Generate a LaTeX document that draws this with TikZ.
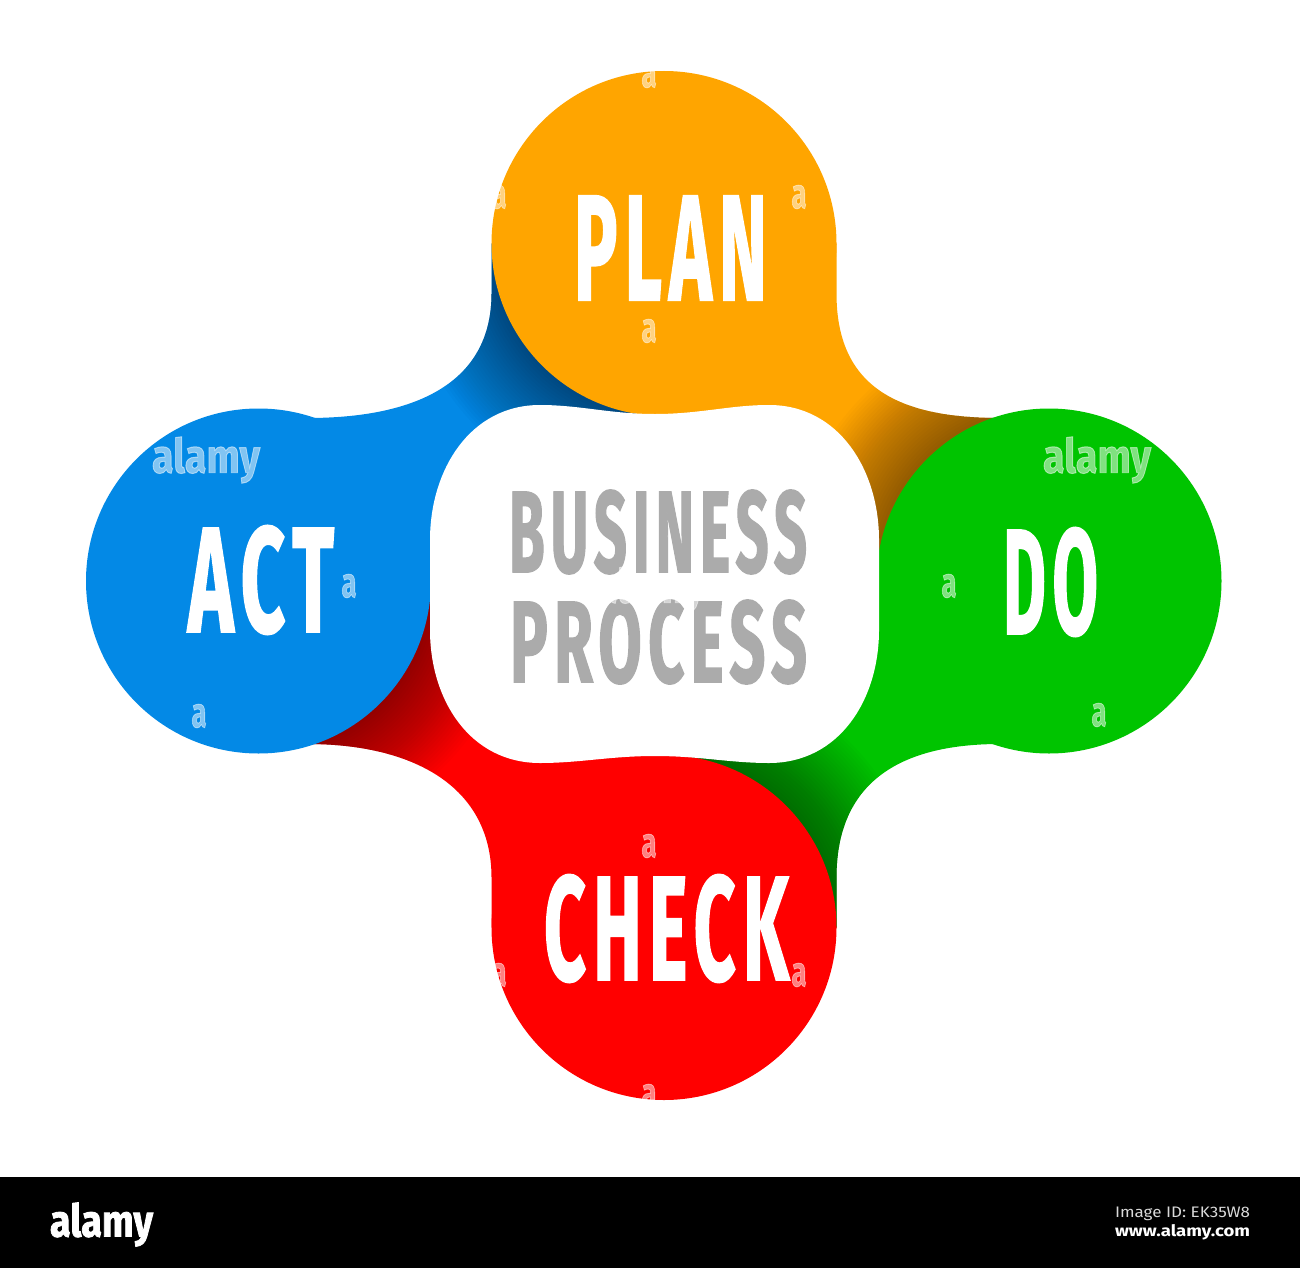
\documentclass[tikz,border=0pt]{standalone}
\usepackage{fontspec}
\usepackage{graphicx}
\newfontfamily\labelfont{Fira Sans}[FakeBold=1.6,LetterSpace=10]
\newfontfamily\wmfont{Fira Sans}[FakeBold=2]
\newfontfamily\plainfont{Fira Sans}
\definecolor{planc}{RGB}{255,165,0}
\definecolor{doc}{RGB}{0,196,0}
\definecolor{checkc}{RGB}{255,0,0}
\definecolor{actc}{RGB}{3,137,230}
\definecolor{graytxt}{RGB}{171,171,171}
\tikzset{
  bigword/.style={inner sep=0pt, text=white, font=\labelfont\bfseries},
  grayword/.style={inner sep=0pt, text=graytxt, font=\labelfont\bfseries},
  wmark/.style={inner sep=0pt, text=white, text opacity=0.5, font=\wmfont\bfseries},
  shadowring/.style={black, opacity=0.014}
}
\begin{document}
\begin{tikzpicture}[x=1pt,y=-1pt]
\useasboundingbox (0,0) rectangle (1300,1268);
\fill[white] (0,0) rectangle (1300,1268);
\coordinate (P) at (664,243.5);
\coordinate (D) at (1049,581);
\coordinate (K) at (664,927.5);
\coordinate (A) at (258.5,581);
\coordinate (C) at (654.5,585);
% orange band (PLAN -> DO), shadowed by DO
\begin{scope}
  \clip (P) -- (836.5,243.5) -- (836.5,293.5) .. controls (836.5,385) and (895,418) .. (1000,418) -- (D) -- (C) -- cycle;
  \fill[planc] (550,150) rectangle (1150,700);
  \foreach \i in {1,...,30} \fill[shadowring] (D) circle[radius={172.5pt+3pt*\i}];
\end{scope}
% blue band (ACT -> PLAN), shadowed by PLAN
\begin{scope}
  \clip (A) -- (307.5,418) .. controls (412.5,418) and (491.5,385) .. (491.5,293.5) -- (491.5,243.5) -- (P) -- (C) -- cycle;
  \fill[actc] (150,150) rectangle (750,700);
  \foreach \i in {1,...,30} \fill[shadowring] (P) circle[radius={172.5pt+3pt*\i}];
\end{scope}
% green band (DO -> CHECK), shadowed by CHECK
\begin{scope}
  \clip (D) -- (1000,744) .. controls (895,744) and (836.5,786) .. (836.5,877.5) -- (836.5,927.5) -- (K) -- (C) -- cycle;
  \fill[doc] (550,450) rectangle (1150,1000);
  \foreach \i in {1,...,30} \fill[shadowring] (K) circle[radius={172.5pt+3pt*\i}];
\end{scope}
% red band (CHECK -> ACT), shadowed by ACT
\begin{scope}
  \clip (K) -- (491.5,927.5) -- (491.5,877.5) .. controls (491.5,786) and (412.5,744) .. (307.5,744) -- (A) -- (C) -- cycle;
  \fill[checkc] (150,450) rectangle (750,1000);
  \foreach \i in {1,...,30} \fill[shadowring] (A) circle[radius={172.5pt+3pt*\i}];
\end{scope}
% circles
\fill[planc] (P) circle[radius=172.5pt];
\fill[doc] (D) circle[radius=172.5pt];
\fill[checkc] (K) circle[radius=172.5pt];
\fill[actc] (A) circle[radius=172.5pt];
% white centre
\fill[white] (430,585) -- (430,540) .. controls (430,470) and (470,405) .. (540,405)
  .. controls (580,405) and (610,414) .. (655,414)
  .. controls (700,414) and (730,405) .. (769,405)
  .. controls (839,405) and (879,470) .. (879,540)
  -- (879,630)
  .. controls (879,700) and (839,763) .. (769,763)
  .. controls (730,763) and (700,756) .. (655,756)
  .. controls (610,756) and (580,763) .. (540,763)
  .. controls (470,763) and (430,700) .. (430,630) -- cycle;
% labels
\node[bigword] (plan) at (670.5,248) {\resizebox{193pt}{104pt}{PLAN}};
\node[bigword] (act) at (261,580) {\resizebox{146pt}{106pt}{ACT}};
\node[bigword] (do) at (1050.5,582) {\resizebox{95pt}{106pt}{DO}};
\node[bigword] (check) at (666.5,928.5) {\resizebox{245pt}{105pt}{CHECK}};
\node[grayword] (business) at (658,532) {\resizebox{298pt}{82pt}{BUSINESS}};
\node[grayword] (process) at (658.5,642) {\resizebox{297pt}{82pt}{PROCESS}};
% watermarks
\node[wmark] (wmact) at (206,460) {\resizebox{108pt}{36pt}{alamy}};
\node[wmark] (wmdo) at (1097,460) {\resizebox{108pt}{36pt}{alamy}};
\node[wmark] (wmmid) at (650,590) {\resizebox{108pt}{36pt}{alamy}};
\node[wmark] (wa1) at (649,76) {\resizebox{15pt}{23pt}{a}};
\node[wmark] (wa2) at (499,197) {\resizebox{15pt}{23pt}{a}};
\node[wmark] (wa3) at (799,197) {\resizebox{15pt}{23pt}{a}};
\node[wmark] (wa4) at (649,331) {\resizebox{15pt}{23pt}{a}};
\node[wmark] (wa5) at (349,586) {\resizebox{15pt}{23pt}{a}};
\node[wmark] (wa6) at (199,716) {\resizebox{15pt}{23pt}{a}};
\node[wmark] (wa7) at (949,586) {\resizebox{15pt}{23pt}{a}};
\node[wmark] (wa8) at (1099,715) {\resizebox{15pt}{23pt}{a}};
\node[wmark] (wa9) at (649,846) {\resizebox{15pt}{23pt}{a}};
\node[wmark] (wa10) at (499,975) {\resizebox{15pt}{23pt}{a}};
\node[wmark] (wa11) at (799,975) {\resizebox{15pt}{23pt}{a}};
\node[wmark] (wa12) at (649,1096) {\resizebox{15pt}{23pt}{a}};
% bottom bar
\fill[black] (0,1177) rectangle (1300,1268);
\node[inner sep=0pt, text=white, font=\wmfont\bfseries] (logo) at (101.5,1224.5) {\resizebox{103pt}{34pt}{alamy}};
\node[inner sep=0pt, text=white!85!black, font=\plainfont] (imgid) at (1182.5,1213.5) {\resizebox{135pt}{10.5pt}{Image ID: EK35W8}};
\node[inner sep=0pt, text=white, font=\plainfont\bfseries] (url) at (1182.5,1232.5) {\resizebox{135pt}{12pt}{www.alamy.com}};
\end{tikzpicture}
\end{document}
